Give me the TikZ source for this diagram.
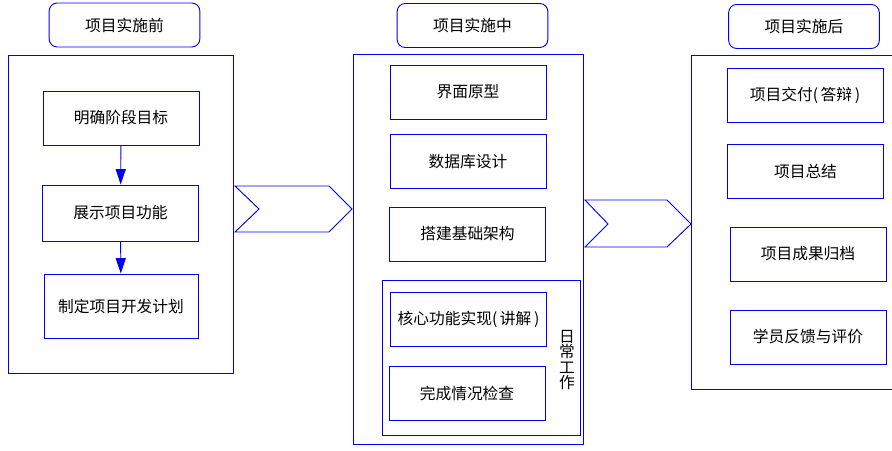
\documentclass[tikz,border=0pt]{standalone}
\usepackage{fontspec}
\newfontfamily\cjk{Noto Sans CJK SC}
\usepackage{tikz}
\usetikzlibrary{arrows.meta,positioning}
\definecolor{pjblue}{HTML}{0000F0}
\tikzset{
  >={Triangle[length=11.5pt,width=7.5pt]},
  every picture/.style={line join=miter},
  cjklbl/.style={font=\cjk\fontsize{11.8}{11.4}\selectfont, text=black},
  stage/.style={cjklbl, draw=pjblue, line width=0.7pt, rounded corners=6pt,
    minimum width=113pt, minimum height=33pt, inner sep=0pt},
  task/.style={cjklbl, draw=pjblue, line width=0.7pt,
    minimum width=117pt, minimum height=40.5pt, inner sep=0pt},
  frame/.style={draw=pjblue, line width=0.7pt},
  flow/.style={pjblue, line width=0.7pt, ->},
}

\begin{document}
\begin{tikzpicture}[x=0.75pt, y=-0.75pt]
\useasboundingbox (0,0) rectangle (892,450);
% stage titles
\node[stage] (before) at (124.5,25) {项目实施前};
\node[stage] (during) at (472.5,25.5) {项目实施中};
\node[stage] (after) at (804,26.5) {项目实施后};
% panel frames
\draw[frame] (8,55) rectangle (233,373);
\draw[frame] (353,54) rectangle (583,444);
\draw[frame] (382,280) rectangle (580,435);
\draw[frame] (691,55) rectangle (900,389);
% chevrons between panels
\draw[frame] (235,186) -- (329,186) -- (352,209) -- (329,232) -- (235,232) -- (259,209) -- cycle;
\draw[frame] (585,200) -- (667,200) -- (691,224) -- (667,247) -- (585,247) -- (608,224) -- cycle;
% before
\node[task] (goal) at (121,118) {明确阶段目标};
\node[task, minimum height=42pt] (demo) at (120.5,213) {展示项目功能};
\node[task, minimum width=115.5pt, minimum height=48pt] (plan) at (121,306) {制定项目开发计划};
\draw[flow] (goal) -- (demo);
\draw[flow] (demo) -- (plan);
% during
\node[task] (proto) at (468,92) {界面原型};
\node[task] (dbdesign) at (468,161.5) {数据库设计};
\node[task] (arch) at (467.5,234) {搭建基础架构};
\node[task] (core) at (468.5,319) {核心功能实现(\,讲解\,)};
\node[task] (check) at (467,393) {完成情况检查};
\node[cjklbl, align=center, inner sep=0pt] (daily) at (567,360) {日\\常\\工\\作};
% after
\node[task, minimum height=41pt] (deliver) at (805,95.5) {项目交付(\,答辩\,)};
\node[task, minimum height=41pt] (summary) at (805.5,171.5) {项目总结};
\node[task] (archive) at (808,254) {项目成果归档};
\node[task] (feedback) at (808,337) {学员反馈与评价};
\end{tikzpicture}
\end{document}
